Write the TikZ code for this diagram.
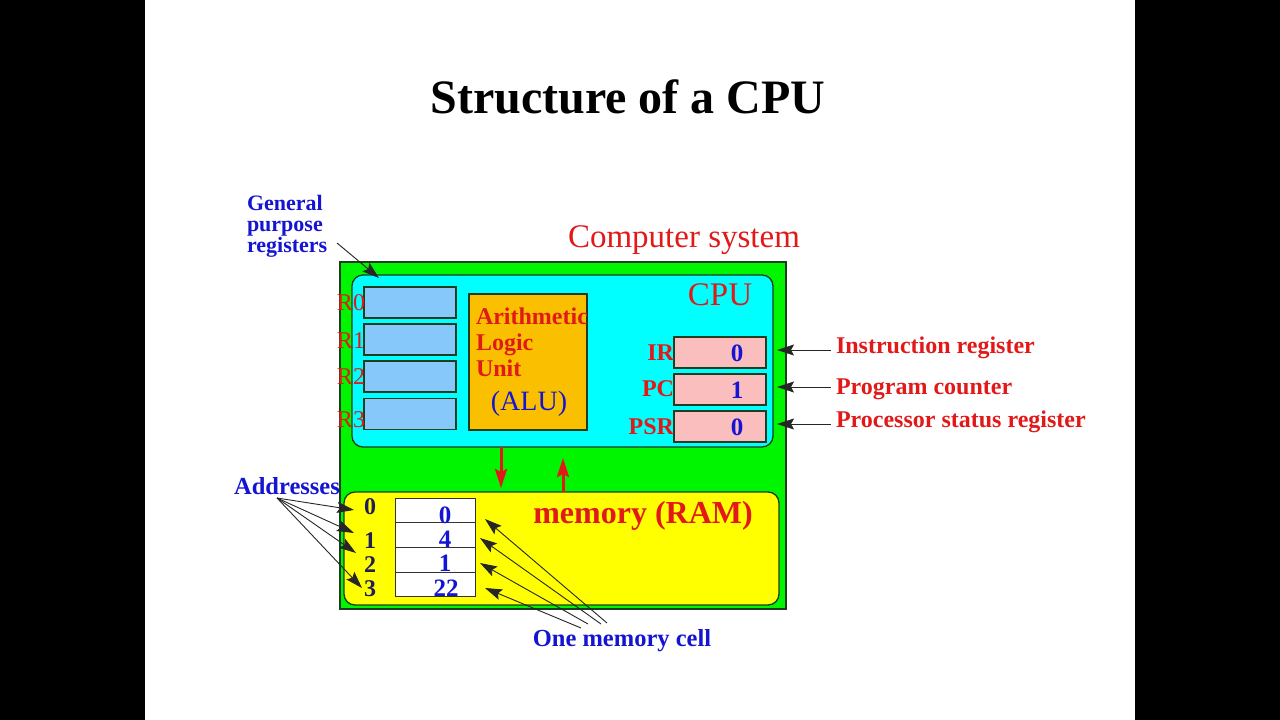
\documentclass[tikz,border=0pt]{standalone}
\usepackage{fontspec}
\setmainfont{Liberation Serif}
\usetikzlibrary{arrows.meta}
\definecolor{sysgreen}{RGB}{0,245,0}
\definecolor{cpucyan}{RGB}{0,255,255}
\definecolor{reglblue}{RGB}{135,200,250}
\definecolor{aluorange}{RGB}{250,192,0}
\definecolor{regpink}{RGB}{250,190,190}
\definecolor{memyellow}{RGB}{255,255,0}
\definecolor{txtred}{RGB}{225,25,25}
\definecolor{txtblue}{RGB}{20,20,210}
\definecolor{txtnavy}{RGB}{30,30,90}
\definecolor{edge}{RGB}{30,60,30}
\newcommand{\gprfont}{\fontsize{22}{21}\selectfont\bfseries\lineskiplimit=-30pt\relax}
\tikzset{
  boxbase/.style={draw=edge, line width=1.3pt, inner sep=0pt, outer sep=0pt},
  regbox/.style={boxbase, fill=reglblue, minimum width=92pt, minimum height=31pt},
  sregbox/.style={boxbase, fill=regpink, minimum width=92pt, minimum height=31pt},
  cellbox/.style={boxbase, draw=black!80, line width=1pt, fill=white, minimum width=80pt, minimum height=24.75pt},
  lbl/.style={inner sep=0pt, outer sep=0pt},
  redlbl/.style={lbl, text=txtred, font=\fontsize{24}{26}\selectfont},
  redbold/.style={lbl, text=txtred, font=\fontsize{24}{26}\selectfont\bfseries},
  bluebold/.style={lbl, text=txtblue, font=\fontsize{24.5}{26}\selectfont\bfseries},
  valtxt/.style={lbl, text=txtblue, font=\fontsize{25}{26}\selectfont\bfseries},
  thinarrow/.style={draw=black!85, line width=0.9pt, -{Stealth[length=17pt,width=11pt,inset=3pt]}},
  redarrow/.style={draw=txtred, line width=3pt, -{Stealth[length=19pt,width=12pt,inset=3pt]}},
}
\begin{document}
\begin{tikzpicture}[x=1pt,y=-1pt]
\useasboundingbox (0,0) rectangle (1280,720);
\fill[black] (0,0) rectangle (145,720);
\fill[black] (1135,0) rectangle (1280,720);

% title
\node[lbl, font=\fontsize{48}{50}\selectfont\bfseries] (title) at (628,97) {Structure of a CPU};

% computer system
\node[boxbase, fill=sysgreen, minimum width=446pt, minimum height=347pt] (sys) at (563,435.5) {};
\node[lbl, text=txtred, font=\fontsize{33}{35}\selectfont] (systxt) at (684,240) {Computer system};

% CPU
\node[boxbase, fill=cpucyan, rounded corners=11pt, minimum width=421pt, minimum height=172pt] (cpu) at (562.5,361) {};
\node[lbl, text=txtred, font=\fontsize{33}{35}\selectfont] (cputxt) at (720,295) {CPU};

% general purpose registers
\node[regbox] (r0) at (410,302.5) {};
\node[regbox] (r1) at (410,339.5) {};
\node[regbox] (r2) at (410,376.5) {};
\node[regbox] (r3) at (410,414) {};
\node[redlbl, anchor=east] (r0l) at (365,303) {R0};
\node[redlbl, anchor=east] (r1l) at (365,341) {R1};
\node[redlbl, anchor=east] (r2l) at (365,377) {R2};
\node[redlbl, anchor=east] (r3l) at (365,420) {R3};

% ALU
\node[boxbase, fill=aluorange, minimum width=118pt, minimum height=136pt] (alu) at (528,362) {};
\node[lbl, text=txtred, font=\fontsize{24}{26}\selectfont\bfseries, align=left, anchor=north west] (alutxt) at (476,308) {Arithmetic\\Logic\\Unit};
\node[lbl, text=txtblue, font=\fontsize{28}{30}\selectfont] (aluabbr) at (529,404) {(ALU)};

% special registers
\node[sregbox] (ir) at (720,352.5) {};
\node[sregbox] (pc) at (720,389.5) {};
\node[sregbox] (psr) at (720,426.5) {};
\node[redbold, anchor=east] (irl) at (674,353) {IR};
\node[redbold, anchor=east] (pcl) at (674,389) {PC};
\node[redbold, anchor=east] (psrl) at (674,427) {PSR};
\node[valtxt] (irv) at (737,353) {0};
\node[valtxt] (pcv) at (737,390) {1};
\node[valtxt] (psrv) at (737,427) {0};

\node[redbold, anchor=west] (irname) at (836,348) {Instruction register};
\node[redbold, anchor=west] (pcname) at (836,389) {Program counter};
\node[redbold, anchor=west] (psrname) at (836,422) {Processor status register};
\coordinate (irtip) at (777,350);
\coordinate (pctip) at (777,387);
\coordinate (psrtip) at (777,424);
\coordinate (irstart) at (831,350);
\coordinate (pcstart) at (831,387);
\coordinate (psrstart) at (831,424);
\draw[thinarrow] (irstart) -- (irtip);
\draw[thinarrow] (pcstart) -- (pctip);
\draw[thinarrow] (psrstart) -- (psrtip);

% general purpose registers label
\node[lbl, text=txtblue, font=\gprfont, align=left, anchor=north west] (gpr) at (247,195) {General\\purpose\\registers};
\coordinate (gprstart) at (337,243);
\coordinate (gprtip) at (379,278);
\draw[thinarrow] (gprstart) -- (gprtip);

% memory
\node[boxbase, fill=memyellow, rounded corners=11pt, minimum width=435pt, minimum height=113pt] (mem) at (561.5,548.5) {};
\node[lbl, text=txtred, font=\fontsize{32}{34}\selectfont\bfseries] (memtxt) at (643,516) {memory (RAM)};

\node[cellbox] (c0) at (435,510.4) {};
\node[cellbox] (c1) at (435,535.1) {};
\node[cellbox] (c2) at (435,559.9) {};
\node[cellbox] (c3) at (435,584.6) {};
\node[valtxt] (c0v) at (445,515) {0};
\node[valtxt] (c1v) at (445,539) {4};
\node[valtxt] (c2v) at (445,563) {1};
\node[valtxt] (c3v) at (446,588) {22};

\node[lbl, text=txtnavy, font=\fontsize{24}{26}\selectfont\bfseries] (a0) at (370,507) {0};
\node[lbl, text=txtnavy, font=\fontsize{24}{26}\selectfont\bfseries] (a1) at (370,541) {1};
\node[lbl, text=txtnavy, font=\fontsize{24}{26}\selectfont\bfseries] (a2) at (370,565) {2};
\node[lbl, text=txtnavy, font=\fontsize{24}{26}\selectfont\bfseries] (a3) at (370,589) {3};

% CPU <-> memory arrows
\coordinate (downx) at (501,0);
\coordinate (upx) at (563,0);
\coordinate (uptip) at (563,458);
\draw[redarrow, shorten >=4pt] (cpu.south -| downx) -- (mem.north -| downx);
\draw[redarrow] (mem.north -| upx) -- (uptip);

% Addresses
\node[bluebold] (addr) at (287,486) {Addresses};
\coordinate (addro) at (277,498);
\coordinate (at0) at (354,510);
\coordinate (at1) at (354,533);
\coordinate (at2) at (356,553);
\coordinate (at3) at (362,588);
\draw[thinarrow] (addro) -- (at0);
\draw[thinarrow] (addro) -- (at1);
\draw[thinarrow] (addro) -- (at2);
\draw[thinarrow] (addro) -- (at3);

% One memory cell
\node[bluebold] (cell) at (622,641) {One memory cell};
\coordinate (co0) at (607,623);
\coordinate (co1) at (601,624);
\coordinate (co2) at (588,624);
\coordinate (co3) at (581,628);
\coordinate (ct0) at (485,519);
\coordinate (ct1) at (480,538);
\coordinate (ct2) at (480,563);
\coordinate (ct3) at (485,588);
\draw[thinarrow] (co0) -- (ct0);
\draw[thinarrow] (co1) -- (ct1);
\draw[thinarrow] (co2) -- (ct2);
\draw[thinarrow] (co3) -- (ct3);
\end{tikzpicture}
\end{document}
